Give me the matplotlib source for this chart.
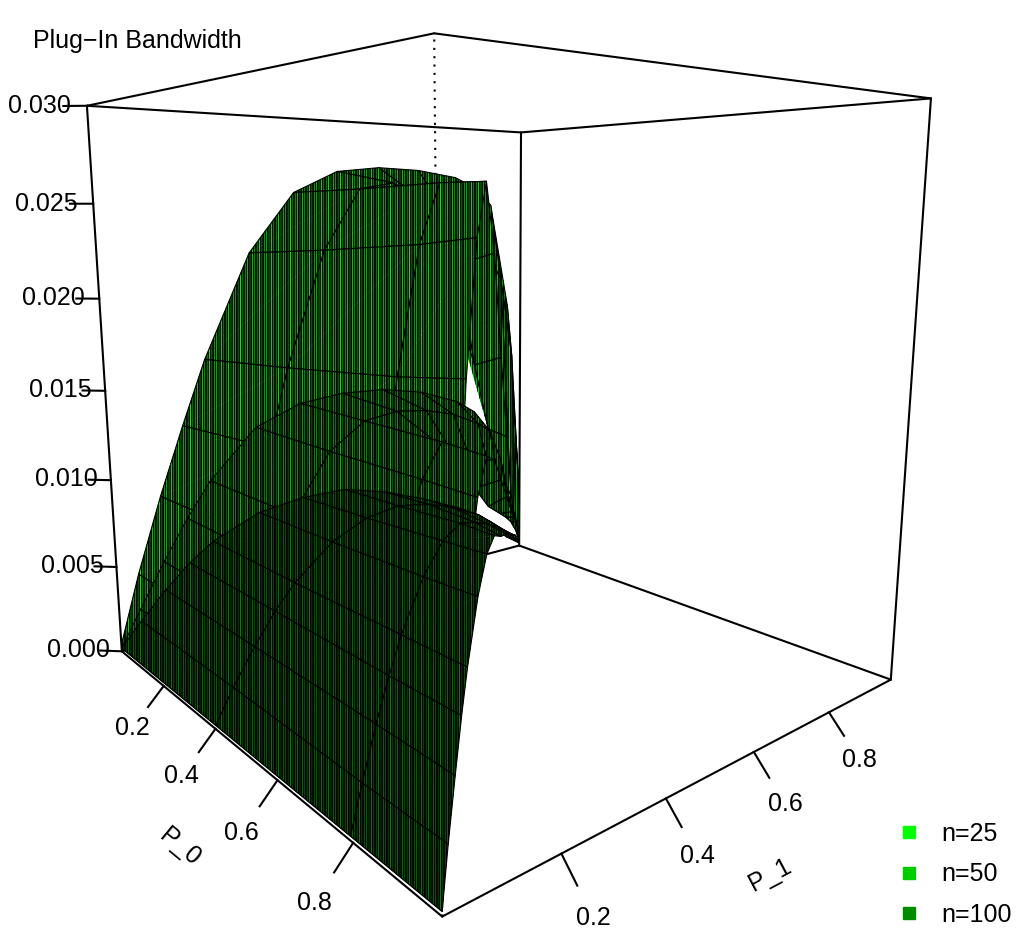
import numpy as np
import matplotlib
matplotlib.use('Agg')
import matplotlib.pyplot as plt
from matplotlib.collections import PolyCollection
from matplotlib.lines import Line2D

plt.rcParams['font.family'] = ['Liberation Sans', 'DejaVu Sans']
plt.rcParams['hatch.color'] = 'black'
plt.rcParams['hatch.linewidth'] = 1.0

# ---- values ----
# surface rows: P_1 values
p1_rows = [0.01, 0.05, 0.10, 0.15, 0.20, 0.30, 0.40, 0.50,
           0.60, 0.70, 0.80, 0.85, 0.90, 0.95, 0.99]
# place across a row: 0 = P_0 at 0.01, 1 = the edge P_0 + P_1 = 1
u_cols = [0.0, 0.4, 0.8, 1.0]

# bandwidth, one row per P_1 value, one column per u value
bw_n25 = [
    [0.0004, 0.0004, 0.0004, 0.0004],
    [0.0043, 0.0045, 0.0048, 0.0050],
    [0.0086, 0.0089, 0.0092, 0.0095],
    [0.0125, 0.0130, 0.0136, 0.0140],
    [0.0162, 0.0168, 0.0175, 0.0180],
    [0.0222, 0.0226, 0.0231, 0.0235],
    [0.0257, 0.0258, 0.0260, 0.0260],
    [0.0270, 0.0262, 0.0218, 0.0225],
    [0.0273, 0.0252, 0.0158, 0.0165],
    [0.0272, 0.0240, 0.0112, 0.0110],
    [0.0268, 0.0225, 0.0075, 0.0060],
    [0.0262, 0.0215, 0.0060, 0.0043],
    [0.0250, 0.0200, 0.0045, 0.0027],
    [0.0180, 0.0145, 0.0026, 0.0012],
    [0.0040, 0.0035, 0.0010, 0.0003],
]
bw_n50 = [
    [0.0002, 0.0002, 0.0002, 0.0002],
    [0.0022, 0.0023, 0.0025, 0.0026],
    [0.0047, 0.0048, 0.0050, 0.0051],
    [0.0070, 0.0071, 0.0073, 0.0074],
    [0.0090, 0.0091, 0.0093, 0.0094],
    [0.0118, 0.0118, 0.0119, 0.0119],
    [0.0129, 0.0129, 0.0129, 0.0128],
    [0.0132, 0.0129, 0.0110, 0.0116],
    [0.0131, 0.0124, 0.0084, 0.0094],
    [0.0126, 0.0116, 0.0062, 0.0072],
    [0.0116, 0.0104, 0.0046, 0.0050],
    [0.0107, 0.0096, 0.0038, 0.0040],
    [0.0080, 0.0072, 0.0029, 0.0030],
    [0.0035, 0.0032, 0.0017, 0.0017],
    [0.0006, 0.0006, 0.0005, 0.0005],
]
bw_n100 = [
    [0.0002, 0.0002, 0.0002, 0.0002],
    [0.0015, 0.0016, 0.0016, 0.0017],
    [0.0030, 0.0031, 0.0032, 0.0032],
    [0.0043, 0.0044, 0.0045, 0.0046],
    [0.0053, 0.0054, 0.0056, 0.0057],
    [0.0065, 0.0067, 0.0070, 0.0072],
    [0.0069, 0.0072, 0.0076, 0.0078],
    [0.0069, 0.0071, 0.0074, 0.0074],
    [0.0062, 0.0064, 0.0063, 0.0060],
    [0.0052, 0.0053, 0.0050, 0.0048],
    [0.0040, 0.0040, 0.0036, 0.0034],
    [0.0031, 0.0031, 0.0028, 0.0027],
    [0.0021, 0.0021, 0.0020, 0.0020],
    [0.0009, 0.0010, 0.0010, 0.0011],
    [0.0002, 0.0002, 0.0002, 0.0003],
]

legend_labels = ['n=25', 'n=50', 'n=100']
surfaces = [bw_n25, bw_n50, bw_n100]
surface_colors = ['#00FF00', '#00CD00', '#008B00']

p_range = [0.01, 0.99]
z_range = [0.0, 0.03]
p_ticks = [0.2, 0.4, 0.6, 0.8]
z_ticks = [0.0, 0.005, 0.010, 0.015, 0.020, 0.025, 0.030]

# ---- view: where the corners of the unit box land on the page (pixels) ----
view_corners = [
    ((0, 0, 0), (122, 652)), ((1, 0, 0), (442, 916)),
    ((1, 1, 0), (891, 680)), ((0, 1, 0), (519, 545)),
    ((0, 0, 1), (87, 105)), ((1, 0, 1), (434, 34)),
    ((1, 1, 1), (931, 98)), ((0, 1, 1), (521, 133)),
]


def fit_camera(pairs):
    rows = []
    for (X, Y, Z), (u, v) in pairs:
        u, v = u / 1000.0, v / 1000.0
        rows.append([X, Y, Z, 1, 0, 0, 0, 0, -u * X, -u * Y, -u * Z, -u])
        rows.append([0, 0, 0, 0, X, Y, Z, 1, -v * X, -v * Y, -v * Z, -v])
    _, _, vt = np.linalg.svd(np.array(rows, dtype=float))
    P = vt[-1].reshape(3, 4)
    if (P @ np.array([0.5, 0.5, 0.5, 1.0]))[2] < 0:
        P = -P
    return P


cam = fit_camera(view_corners)


def to_unit(p0, p1, z):
    a = (np.asarray(p0, float) - p_range[0]) / (p_range[1] - p_range[0])
    b = (np.asarray(p1, float) - p_range[0]) / (p_range[1] - p_range[0])
    c = (np.asarray(z, float) - z_range[0]) / (z_range[1] - z_range[0])
    return a, b, c


def project(a, b, c):
    a, b, c = np.broadcast_arrays(np.asarray(a, float), np.asarray(b, float), np.asarray(c, float))
    h = np.stack([a, b, c, np.ones_like(a)], axis=-1) @ cam.T
    w = h[..., 2]
    return h[..., 0] / w * 1000.0, h[..., 1] / w * 1000.0, w


fig = plt.figure(figsize=(10.24, 9.39), dpi=100)
ax = fig.add_axes([0, 0, 1, 1])
ax.set_xlim(0, 1024)
ax.set_ylim(939, 0)
ax.axis('off')

box_lw = 1.5
tick_len = 0.03
fs = 18

# back edges of the box (solid)
edges = [((0, 0, 0), (1, 0, 0)), ((1, 0, 0), (1, 1, 0)), ((1, 1, 0), (0, 1, 0)), ((0, 1, 0), (0, 0, 0)),
         ((0, 0, 1), (1, 0, 1)), ((1, 0, 1), (1, 1, 1)), ((1, 1, 1), (0, 1, 1)), ((0, 1, 1), (0, 0, 1)),
         ((0, 0, 0), (0, 0, 1)), ((1, 1, 0), (1, 1, 1)), ((0, 1, 0), (0, 1, 1))]
for s, e in edges:
    x, y, _ = project([s[0], e[0]], [s[1], e[1]], [s[2], e[2]])
    ax.plot(x, y, color='black', lw=box_lw, solid_capstyle='round', zorder=1)

# front vertical edge, dotted (hidden behind the surfaces)
x, y, _ = project([1, 1], [0, 0], [0, 1])
ax.plot(x, y, color='black', lw=box_lw, linestyle=(0, (1, 3)), zorder=1.5)


def draw_axis(points, offset, labels):
    off = np.array(offset) * tick_len
    for (a, b, c), lab in zip(points, labels):
        x, y, _ = project([a, a + off[0]], [b, b + off[1]], [c, c + off[2]])
        ax.plot(x, y, color='black', lw=box_lw, zorder=1)
        lx, ly, _ = project(a + 2 * off[0], b + 2 * off[1], c + 2 * off[2])
        ax.text(lx, ly, lab, fontsize=fs, ha='center', va='center', zorder=6)


def axis_title(start, end, offset, text, mult):
    off = np.array(offset) * tick_len * mult
    mid = (np.array(start) + np.array(end)) / 2.0
    x, y, _ = project(mid[0] + off[0], mid[1] + off[1], mid[2] + off[2])
    ex, ey, _ = project([start[0], end[0]], [start[1], end[1]], [start[2], end[2]])
    ang = np.degrees(np.arctan2(-(ey[1] - ey[0]), ex[1] - ex[0]))
    ax.text(x, y, text, fontsize=fs, ha='center', va='center', rotation=ang,
            rotation_mode='anchor', zorder=6)


# z axis on the left edge
za = [(0.0, 0.0, to_unit(0.01, 0.01, v)[2]) for v in z_ticks]
draw_axis(za, (-1, -1, 0), [f'{v:.3f}' for v in z_ticks])
# P_0 axis along the front-left edge
pa = [(to_unit(v, 0.01, 0)[0], 0.0, 0.0) for v in p_ticks]
draw_axis(pa, (0, -1, -1), [f'{v:.1f}' for v in p_ticks])
# P_1 axis along the front-right edge
pb = [(1.0, to_unit(0.01, v, 0)[1], 0.0) for v in p_ticks]
draw_axis(pb, (1, 0, -1), [f'{v:.1f}' for v in p_ticks])

axis_title((0, 0, 0), (1, 0, 0), (0, -1, -1), 'P_0', 3.7)
axis_title((1, 0, 0), (1, 1, 0), (1, 0, -1), 'P_1', 3.6)

# ---- surfaces, n=25 first so the smaller bandwidths sit in front ----
p1g = np.array(p1_rows)[:, None]
ug = np.array(u_cols)[None, :]
p0g = p_range[0] + ug * (1.0 - p1g - p_range[0])
p1g = np.broadcast_to(p1g, p0g.shape)

for k, (table, col) in enumerate(zip(surfaces, surface_colors)):
    a, b, c = to_unit(p0g, p1g, np.array(table))
    sx, sy, sw = project(a, b, c)
    cells = []
    for i in range(len(p1_rows) - 1):
        for j in range(len(u_cols) - 1):
            idx = [(i, j), (i, j + 1), (i + 1, j + 1), (i + 1, j)]
            pts = [(sx[r, q], sy[r, q]) for r, q in idx]
            cells.append((np.mean([sw[r, q] for r, q in idx]), pts))
    cells.sort(key=lambda t: -t[0])
    # each cell: two filled triangles (a folded quad can twist) plus its black outline
    polys, faces, widths = [], [], []
    for _, pts in cells:
        polys += [[pts[0], pts[1], pts[2]], [pts[0], pts[2], pts[3]], pts]
        faces += [col, col, 'none']
        widths += [0.0, 0.0, 0.8]
    pc = PolyCollection(polys, facecolors=faces, edgecolors='black',
                        linewidths=widths, hatch='|||||||', zorder=2 + k)
    ax.add_collection(pc)

ax.text(33, 41, 'Plug\u2212In Bandwidth', fontsize=fs, ha='left', va='center')

handles = [Line2D([], [], linestyle='none', marker='s', markersize=8.5,
                  markerfacecolor=c, markeredgecolor=c) for c in surface_colors]
fig.legend(handles, legend_labels, loc='lower right', bbox_to_anchor=(1.0, 0.0),
           frameon=False, fontsize=fs, handlelength=0.8, handletextpad=0.9,
           labelspacing=0.65, borderaxespad=0.1)

fig.savefig('out.png', dpi=100)
